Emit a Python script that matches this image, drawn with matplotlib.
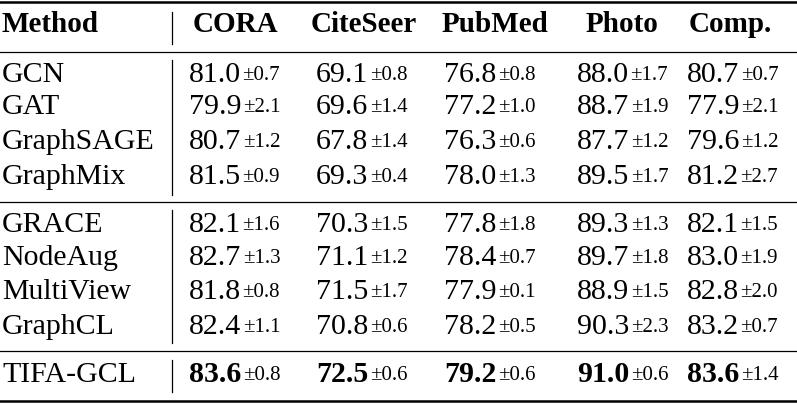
import matplotlib
matplotlib.use("Agg")
import matplotlib.pyplot as plt

columns = ["CORA", "CiteSeer", "PubMed", "Photo", "Comp."]
methods = ["GCN", "GAT", "GraphSAGE", "GraphMix", "GRACE", "NodeAug", "MultiView", "GraphCL", "TIFA-GCL"]
means = [
    ["81.0", "69.1", "76.8", "88.0", "80.7"],
    ["79.9", "69.6", "77.2", "88.7", "77.9"],
    ["80.7", "67.8", "76.3", "87.7", "79.6"],
    ["81.5", "69.3", "78.0", "89.5", "81.2"],
    ["82.1", "70.3", "77.8", "89.3", "82.1"],
    ["82.7", "71.1", "78.4", "89.7", "83.0"],
    ["81.8", "71.5", "77.9", "88.9", "82.8"],
    ["82.4", "70.8", "78.2", "90.3", "83.2"],
    ["83.6", "72.5", "79.2", "91.0", "83.6"],
]
stds = [
    ["0.7", "0.8", "0.8", "1.7", "0.7"],
    ["2.1", "1.4", "1.0", "1.9", "2.1"],
    ["1.2", "1.4", "0.6", "1.2", "1.2"],
    ["0.9", "0.4", "1.3", "1.7", "2.7"],
    ["1.6", "1.5", "1.8", "1.3", "1.5"],
    ["1.3", "1.2", "0.7", "1.8", "1.9"],
    ["0.8", "1.7", "0.1", "1.5", "2.0"],
    ["1.1", "0.6", "0.5", "2.3", "0.7"],
    ["0.8", "0.6", "0.6", "0.6", "1.4"],
]
bold_rows = [8]

W, H = 797, 405
fig = plt.figure(figsize=(W / 100, H / 100), dpi=100)
ax = fig.add_axes([0, 0, 1, 1])
ax.set_xlim(0, W)
ax.set_ylim(H, 0)
ax.axis("off")
font = "Liberation Serif"

col_x = [189, 316, 444, 577, 687]
head_cx = [235, 364, 495, 622, 730]
row_y = [75, 107, 142, 177, 225, 258, 292, 327, 375]
vline_x = 172

ax.text(2, 25, "Method", fontsize=21, fontweight="bold", family=font, va="center", ha="left")
for cx, c in zip(head_cx, columns):
    ax.text(cx, 25, c, fontsize=21, fontweight="bold", family=font, va="center", ha="center")

fig.canvas.draw()
for i, m in enumerate(methods):
    y = row_y[i]
    ax.text(2, y, m, fontsize=21.5, family=font, va="center", ha="left")
    for j in range(len(columns)):
        t = ax.text(col_x[j], y, means[i][j], fontsize=21.5, family=font, va="center", ha="left",
                    fontweight="bold" if i in bold_rows else "normal")
        ax.annotate("±" + stds[i][j], xy=(1, 0.12), xycoords=t, xytext=(1, 0),
                    textcoords="offset points", fontsize=15, family=font,
                    va="bottom", ha="left")

# rules
ax.plot([0, W], [1.5, 1.5], color="black", lw=1.8)
ax.plot([0, W], [52, 52], color="black", lw=0.9)
ax.plot([0, W], [202, 202], color="black", lw=0.9)
ax.plot([0, W], [351, 351], color="black", lw=0.9)
ax.plot([0, W], [401, 401], color="black", lw=1.8)
for y0, y1 in [(12, 44), (60, 195), (210, 343), (360, 392)]:
    ax.plot([vline_x, vline_x], [y0, y1], color="black", lw=0.9)

fig.savefig("out.png", dpi=100)
